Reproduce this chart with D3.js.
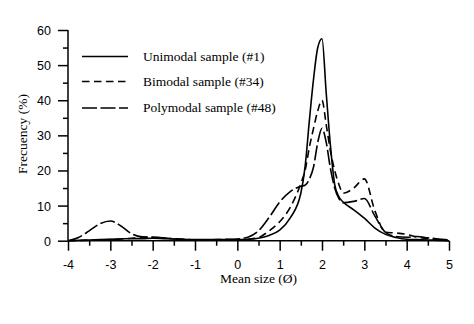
<!DOCTYPE html>
<html>
<head>
<meta charset="utf-8">
<script src="https://cdn.jsdelivr.net/npm/d3@7"></script>
<style>
  html, body { margin: 0; padding: 0; background: #fff; }
  svg { display: block; }
</style>
</head>
<body>
<svg id="chart" width="474" height="324"></svg>
<script>
// ---- data ----
const phi = [-4, -3.75, -3.5, -3.25, -3, -2.75, -2.5, -2.25, -2, -1.75, -1.5, -1.25, -1, -0.75, -0.5, -0.25,
  0, 0.25, 0.5, 0.75, 1.0, 1.25, 1.5, 1.6, 1.7, 1.8, 1.9, 2.0, 2.1, 2.2, 2.3, 2.4, 2.5, 2.75, 3.0, 3.25, 3.5,
  3.75, 4.0, 4.25, 4.5, 4.75, 5.0];
const unimodal = [0, 0.1, 0.2, 0.3, 0.4, 0.5, 0.6, 0.6, 0.7, 0.6, 0.5, 0.4, 0.3, 0.3, 0.3, 0.3,
  0.3, 0.4, 0.7, 1.5, 3.0, 6.5, 13.5, 21, 34, 46, 55, 57.5, 42, 27, 16, 12.5, 11, 8.8, 6.4, 3.6, 1.8,
  0.9, 0.4, 0.3, 0.2, 0.1, 0];
const bimodal = [0, 0.05, 0.1, 0.2, 0.3, 0.5, 0.7, 0.9, 1.0, 0.8, 0.6, 0.4, 0.2, 0.2, 0.2, 0.2,
  0.2, 0.4, 0.9, 2.8, 5.4, 9.5, 16.3, 20, 26.5, 32, 37, 40, 33, 25.5, 20, 16, 13.5, 15, 17.6, 8.5, 2.4,
  2.2, 1.8, 1.0, 0.6, 0.3, 0];
const polymodal = [0, 0.9, 2.8, 4.8, 5.6, 4.2, 2.0, 1.1, 1.0, 0.8, 0.5, 0.3, 0.2, 0.2, 0.3, 0.4,
  0.5, 1.0, 2.8, 6.6, 11, 14, 15.5, 15.8, 17.5, 21, 28, 32, 28, 20.5, 15, 12, 10.8, 11.2, 12, 7, 2.4,
  1.2, 1.0, 1.2, 0.8, 0.5, 0.2];
const seriesNames = ["Unimodal sample (#1)", "Bimodal sample (#34)", "Polymodal sample (#48)"];
const xTicks = [-4, -3, -2, -1, 0, 1, 2, 3, 4, 5];
const yTicks = [0, 10, 20, 30, 40, 50, 60];
const xLabel = "Mean size (Ø)";
const yLabel = "Frecuency (%)";

// ---- layout ----
const svg = d3.select("#chart");
const x = d3.scaleLinear().domain([-4, 5]).range([68, 449]);
const y = d3.scaleLinear().domain([0, 60]).range([240.7, 30]);
const dashes = [null, "7.5,4.5", "15,3.5"];

// ---- curves ----
const series = [unimodal, bimodal, polymodal];
const line = d3.line().x(d => x(d[0])).y(d => y(d[1])).curve(d3.curveMonotoneX);
series.forEach((vals, i) => {
  svg.append("path")
    .datum(phi.map((p, j) => [p, vals[j]]))
    .attr("d", line)
    .attr("fill", "none")
    .attr("stroke", "#000")
    .attr("stroke-width", 1.6)
    .attr("stroke-dasharray", dashes[i]);
});

// ---- axes ----
const xAxis = svg.append("g").attr("transform", `translate(0,${y(0)})`);
xAxis.call(d3.axisBottom(x).tickValues(d3.range(-4, 5.01, 0.5)).tickSize(5).tickFormat(""));
xAxis.call(g => g.selectAll(".tick line").filter(d => Number.isInteger(d)).attr("y2", 10));
xAxis.selectAll(".domain").attr("d", `M${x(-4)},0H${x(5)}`);
xAxis.selectAll("line, path").attr("stroke", "#000").attr("stroke-width", 1.5);
xAxis.selectAll(".tick")
  .filter(d => xTicks.includes(d))
  .append("text")
  .attr("y", 28.5)
  .attr("fill", "#000")
  .attr("text-anchor", "middle")
  .style("font-family", "'Liberation Sans', Arial, sans-serif")
  .style("font-size", "12.5px")
  .text(d => d);

const yAxis = svg.append("g").attr("transform", `translate(${x(-4)},0)`);
yAxis.call(d3.axisLeft(y).tickValues(d3.range(0, 60.01, 5)).tickSize(5).tickFormat(""));
yAxis.call(g => g.selectAll(".tick line").filter(d => d % 10 === 0).attr("x2", -10));
yAxis.selectAll(".domain").attr("d", `M0,${y(0)}V${y(60)}`);
yAxis.selectAll("line, path").attr("stroke", "#000").attr("stroke-width", 1.5);
yAxis.selectAll(".tick")
  .filter(d => yTicks.includes(d))
  .append("text")
  .attr("x", -17)
  .attr("dy", "0.36em")
  .attr("fill", "#000")
  .attr("text-anchor", "end")
  .style("font-family", "'Liberation Sans', Arial, sans-serif")
  .style("font-size", "12.5px")
  .text(d => d);

// ---- axis titles ----
svg.append("text")
  .attr("x", 258.5).attr("y", 283)
  .attr("text-anchor", "middle")
  .style("font-family", "'Liberation Serif', 'Times New Roman', serif")
  .style("font-size", "13.5px")
  .text(xLabel);
svg.append("text")
  .attr("transform", "translate(27,134) rotate(-90)")
  .attr("text-anchor", "middle")
  .style("font-family", "'Liberation Serif', 'Times New Roman', serif")
  .style("font-size", "13.5px")
  .text(yLabel);

// ---- legend ----
const legY = [56.5, 81.5, 108];
seriesNames.forEach((name, i) => {
  svg.append("line")
    .attr("x1", 82).attr("x2", 128)
    .attr("y1", legY[i]).attr("y2", legY[i])
    .attr("stroke", "#000").attr("stroke-width", 1.6)
    .attr("stroke-dasharray", dashes[i]);
  svg.append("text")
    .attr("x", 143).attr("y", legY[i])
    .attr("dy", "0.33em")
    .style("font-family", "'Liberation Serif', 'Times New Roman', serif")
    .style("font-size", "13.5px")
    .text(name);
});
</script>
</body>
</html>
